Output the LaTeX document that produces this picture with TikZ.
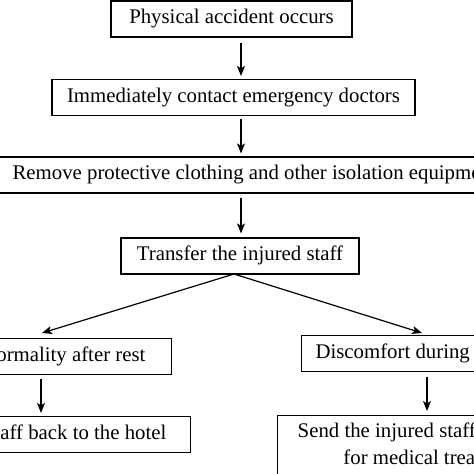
\documentclass[tikz,border=0pt]{standalone}
\usepackage{fontspec}
\setmainfont{Liberation Serif}
\usetikzlibrary{arrows.meta}
\tikzset{
  txt/.style={font=\fontsize{20.8}{27}\selectfont},
  box/.style={draw, line width=1.2pt, txt,
    minimum height=36pt, text height=14pt, text depth=4.5pt, inner ysep=0pt},
  arr/.style={line width=1.2pt, -{Stealth[length=10pt,width=8pt,inset=2.5pt]}},
}
\begin{document}
\begin{tikzpicture}[x=1pt,y=-1pt]
\useasboundingbox (0,0) rectangle (474,474);
\clip (0,0) rectangle (474,474);
\node[box, minimum width=241pt] (b1) at (231.5,19) {Physical accident occurs};
\node[box, minimum width=363pt] (b2) at (233.5,97.5) {Immediately contact emergency doctors};
\node[box, anchor=west, inner xsep=32pt, align=left] (b3) at (-20,175) {Remove protective clothing and other isolation equipment};
\node[box, minimum width=238pt] (b4) at (240,256) {Transfer the injured staff};
\node[box, anchor=east, inner xsep=26pt] (b5) at (172,356.5) {No abnormality after rest};
\node[box, anchor=east, inner xsep=24pt] (b6) at (191,434.5) {Send the staff back to the hotel};
\node[box, anchor=west, inner xsep=14pt] (b7) at (301,353.5) {Discomfort during rest};
\node[draw, line width=1.2pt, anchor=north west, minimum width=312pt, minimum height=90pt, inner sep=0pt] (b8) at (277,415) {};
\node[txt, align=center, anchor=base, inner sep=0pt] (b8t) at (433,464) {Send the injured staff to hospital\\for medical treatment};
\coordinate (c1) at (241,0);
\draw[arr] ([yshift=-5pt]b1.south -| c1) -- ([yshift=3pt]b2.north -| c1);
\draw[arr] ([yshift=-3pt]b2.south -| c1) -- ([yshift=3pt]b3.north -| c1);
\draw[arr] ([yshift=-4pt]b3.south -| c1) -- ([yshift=4pt]b4.north -| c1);
\coordinate (d) at (234,274);
\coordinate (l) at (42,333);
\coordinate (r) at (422,333);
\draw[arr] (d) -- (l);
\draw[arr] (d) -- (r);
\coordinate (lx) at (41,0);
\coordinate (rx) at (427,0);
\draw[arr] ([yshift=-4pt]b5.south -| lx) -- ([yshift=3pt]b6.north -| lx);
\draw[arr] ([yshift=-5pt]b7.south -| rx) -- ([yshift=4pt]b8.north -| rx);
\end{tikzpicture}
\end{document}
